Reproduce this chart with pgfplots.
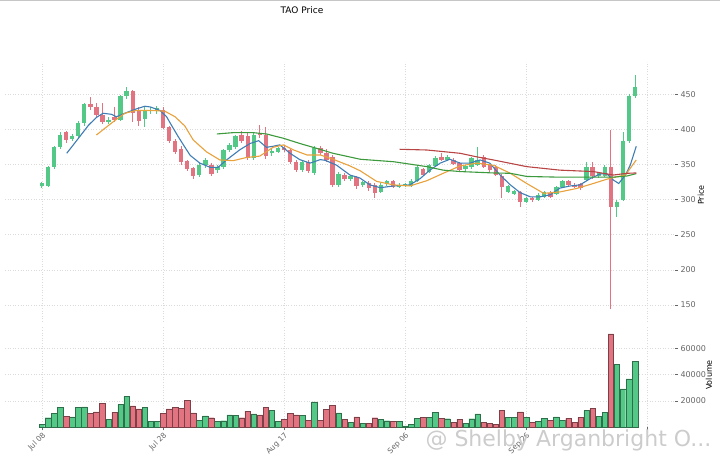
\documentclass[border=0pt]{standalone}
\usepackage{pgfplots}
\pgfplotsset{compat=1.18}
\usepackage{pgfplotstable}
\usepackage{fontspec}
\setmainfont{DejaVu Sans}
\definecolor{upc}{HTML}{54C886}
\definecolor{dnc}{HTML}{E27482}
\definecolor{maA}{HTML}{3F7DB5}
\definecolor{maB}{HTML}{E9A13B}
\definecolor{maC}{HTML}{3C9A3C}
\definecolor{maD}{HTML}{B84444}
\definecolor{tickc}{HTML}{666666}

\pgfplotstableread{
i o c h l v
0 319 323 325 317 2250
1 320 346 348 318 7250
2 346 375 377 343 10500
3 375 392 396 372 15000
5 386 391 393 384 8000
6 390 409 412 386 15000
7 409 436 438 405 15500
11 411 414 418 408 6000
13 414 447 449 412 17250
14 447 454 461 444 23500
17 415 428 432 404 15000
18 426 428 432 422 4750
19 426 430 434 422 4250
26 335 350 352 332 5500
27 349 357 359 345 8750
29 342 347 349 338 4750
30 347 370 372 344 5000
31 371 378 380 368 9500
32 375 390 392 372 9000
35 360 392 395 357 10250
38 366 369 372 362 12750
39 368 373 375 366 4250
43 342 354 357 339 9000
45 338 373 376 335 19250
49 321 337 340 318 11000
51 330 333 335 327 4000
53 321 325 327 318 3000
56 311 321 323 309 6000
57 322 326 328 320 5000
59 318 321 323 316 4750
60 320 322 324 318 1000
61 320 327 329 318 2500
62 327 346 348 325 7000
64 340 349 351 338 7500
65 348 360 362 346 11250
67 357 361 363 355 6500
70 343 348 350 341 3250
71 346 359 361 344 6500
72 350 356 375 348 10250
77 311 319 321 309 7500
78 308 312 314 306 7500
80 297 302 304 295 7500
82 300 307 309 298 4500
83 304 311 313 302 7000
85 308 318 320 306 8000
86 318 326 328 316 5500
90 328 346 354 326 12750
92 333 338 340 331 8250
93 334 347 349 332 11500
95 290 297 300 276 48000
96 300 384 397 298 29250
97 383 448 450 380 36750
98 447 461 478 445 50000
}\up

\pgfplotstableread{
i o c h l v
4 396 385 398 380 8500
8 436 432 446 428 10500
9 432 421 438 418 11750
10 421 411 437 408 18000
12 418 414 432 410 11250
15 454 423 456 410 16250
16 428 412 432 405 14000
20 428 402 432 400 10500
21 403 383 405 380 14000
22 384 368 386 365 15000
23 372 354 376 350 14250
24 355 344 357 341 20250
25 345 333 347 330 11000
28 350 337 352 333 7250
33 392 384 398 380 7250
34 390 360 395 356 12250
36 395 392 406 388 9500
37 392 362 404 358 15000
40 374 371 376 368 6250
41 371 354 373 351 10500
42 354 342 356 339 9500
44 354 341 356 338 5500
46 373 367 376 363 5500
47 367 357 372 353 13500
48 361 321 364 318 16750
50 335 330 338 327 6250
52 332 319 334 315 8000
54 324 316 326 313 3000
55 321 309 323 302 7250
58 326 318 328 316 4250
63 343 335 345 333 7500
66 361 357 366 355 7000
68 357 351 359 349 3500
69 352 342 354 340 6250
73 361 347 363 345 3750
74 349 342 351 340 3000
75 347 335 349 333 2250
76 334 318 336 302 12750
79 311 297 313 290 11750
81 302 299 304 297 3500
84 310 304 312 302 5500
87 326 321 328 319 6750
88 321 318 323 316 3500
89 322 316 324 314 7500
91 346 333 354 330 14250
94 347 290 399 145 71000
}\down

\pgfplotstableread{
x y
4.1 366
6 387
7.7 406
9 417
10.1 423
11.5 421.5
12.3 418
13.7 423
15.4 428.6
17 433
17.9 432
19.5 427
20.6 418
21.4 406
22.5 390
23.6 375
24.5 363
26.1 352
27.8 346
29.1 346
30.5 356.5
32.7 371
34.4 380
35.8 384
37.1 374.5
38.2 376
39.3 378
41 366
42.6 357
44.3 352
46 357
46.8 356
48.7 349
50.9 335
52.5 331
54.2 321
55.9 317
58.1 319.5
60.8 321
62.5 330
64.1 342
65.8 352
67.4 357.5
69.1 352
70.7 352
72.4 356.5
74 352
75.7 335
77.4 321
79 310
80.7 304
82.3 304
84 307
85.6 316.5
87.3 319.5
88.9 321
90.6 330
92.2 336.5
93.3 337
94.4 328
95.3 323
96.4 335
97.2 349
98.2 376
}\maone

\pgfplotstableread{
x y
9 392
10.4 401.6
12.1 413
13.7 423
15.4 426.7
17 427
18.7 426.7
20.3 426
22 418
23.6 405
25 385
27.2 368
29.4 356.5
31.6 355.5
33.8 360
36 362
38.2 374.5
39.9 378
41.5 371
43.8 363.6
46 363.6
48.1 357.5
50.9 348
52.6 341
55.3 326
58.1 321
60.8 319.5
63.6 327
66.3 337.5
69.1 348
71.8 352
74.6 349
77.4 337.5
80.1 323
82.9 309
85.6 311
88.4 316
91.1 323
93.3 329
95 332.6
96.4 335
98.2 356.5
}\matwo

\pgfplotstableread{
x y
28.9 393.5
31.6 395.4
34.9 395.4
37.1 393.5
39.9 387.4
42.6 380
45.4 373
48.1 366
52.6 357.5
58.1 354
63.6 347
66.3 342
69.1 340
74.6 338
77.4 337.5
80.1 333
85.6 332
91.1 332
94.4 332
96.6 333.6
98.2 337
}\mathree

\pgfplotstableread{
x y
59.1 371.7
63.6 370.7
69.1 366
71.8 361
74.6 356.5
80.1 347
85.6 342
91.1 340
94.4 335
96.6 337.5
98.2 338
}\mafour

\pgfplotsset{
  chartbase/.style={
    scale only axis,
    xmin=-6.1, xmax=104.6,
    axis line style={draw=none},
    grid=major,
    grid style={dash pattern=on 1pt off 1.6pt, gray!28, line width=0.6pt},
    xtick={0,20,...,100},
    ytick pos=right,
    yticklabel pos=right,
    tick align=outside,
    major tick length=3pt,
    ytick style={tickc, line width=0.5pt},
    yticklabel style={font=\fontsize{8}{9}\selectfont, text=tickc, xshift=-1pt},
    /pgf/number format/assume math mode=true,
    /pgf/number format/1000 sep={},
    scaled y ticks=false,
  },
  candle/.style={only marks, mark=*, mark size=0.01pt,
    mark options={draw opacity=0, fill opacity=0}, forget plot},
}

\begin{document}
\begin{tikzpicture}[x=1pt,y=1pt]
\path[use as bounding box] (0,0) rectangle (720,462);
\draw[gray!45, line width=1.2pt] (0,461.4) -- (720,461.4);
\node[font=\fontsize{9}{10}\selectfont] at (302,452) {TAO Price};

% price panel
\begin{axis}[chartbase,
  at={(5pt,140pt)}, anchor=south west,
  width=670pt, height=260pt,
  ymin=125.8, ymax=496,
  ytick={150,200,...,450},
  xticklabels={},
  xtick style={draw=none},
]
% wicks
\addplot[candle,
  error bars/.cd, y dir=both, y explicit, error mark=none,
  error bar style={line width=0.9pt, draw=upc}]
  table[x=i, y=c, y error plus expr=\thisrow{h}-\thisrow{c}, y error minus expr=\thisrow{c}-\thisrow{l}] {\up};
\addplot[candle,
  error bars/.cd, y dir=both, y explicit, error mark=none,
  error bar style={line width=0.9pt, draw=dnc}]
  table[x=i, y=o, y error plus expr=\thisrow{h}-\thisrow{o}, y error minus expr=\thisrow{o}-\thisrow{l}] {\down};
% bodies
\addplot[candle,
  error bars/.cd, y dir=both, y explicit, error mark=none,
  error bar style={line width=4.4pt, draw=upc}]
  table[x=i, y=c, y error plus expr=0, y error minus expr=\thisrow{c}-\thisrow{o}] {\up};
\addplot[candle,
  error bars/.cd, y dir=both, y explicit, error mark=none,
  error bar style={line width=4.4pt, draw=dnc}]
  table[x=i, y=o, y error plus expr=0, y error minus expr=\thisrow{o}-\thisrow{c}] {\down};
% moving averages
\addplot[maA, line width=1.1pt, mark=none] table[x=x,y=y] {\maone};
\addplot[maB, line width=1.1pt, mark=none] table[x=x,y=y] {\matwo};
\addplot[maC, line width=1.1pt, mark=none] table[x=x,y=y] {\mathree};
\addplot[maD, line width=1.1pt, mark=none] table[x=x,y=y] {\mafour};
\end{axis}

% volume panel
\begin{axis}[chartbase,
  at={(5pt,34.7pt)}, anchor=south west,
  width=670pt, height=101.3pt,
  ymin=0, ymax=76900,
  ytick={20000,40000,60000},
  xticklabels={Jul 08,Jul 28,Aug 17,Sep 06,Sep 26,{}},
  xtick pos=bottom,
  xtick style={tickc, line width=0.5pt},
  xticklabel style={rotate=45, anchor=north east, font=\fontsize{7.5}{8}\selectfont, text=tickc, inner sep=1pt},
]
\addplot[ybar, bar shift=0pt, bar width=0.92, fill=upc, draw=upc!55!black, line width=0.4pt] table[x=i, y=v] {\up};
\addplot[ybar, bar shift=0pt, bar width=0.92, fill=dnc, draw=dnc!55!black, line width=0.4pt] table[x=i, y=v] {\down};
\end{axis}

\node[rotate=90, font=\fontsize{8}{9}\selectfont] at (701,267) {Price};
\node[rotate=90, font=\fontsize{8}{9}\selectfont] at (709,87) {Volume};
\node[anchor=west, text=gray!40, font=\fontsize{22}{23}\selectfont] at (422,22) {@ Shelby Arganbright O...};
\end{tikzpicture}
\end{document}
